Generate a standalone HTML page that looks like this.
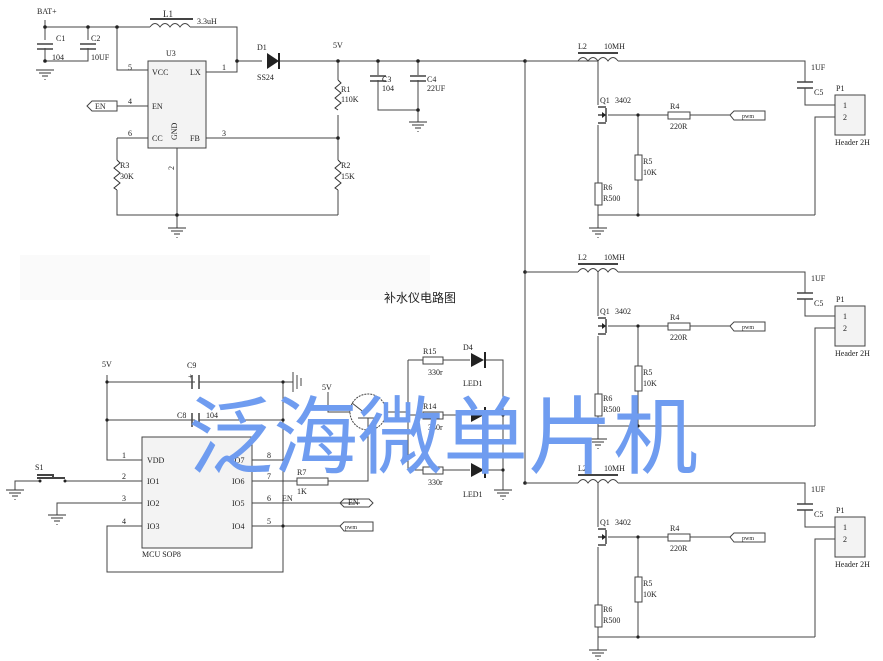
<!DOCTYPE html><html><head><meta charset="utf-8"><style>body{margin:0;background:#fff}svg{display:block}text{font-family:"Liberation Serif",serif;font-size:8px;fill:#222}</style></head><body>
<svg width="883" height="661" viewBox="0 0 883 661" xmlns="http://www.w3.org/2000/svg">
<defs>
<g id="gnd" stroke="#333" stroke-width="1"><line x1="-9" y1="0" x2="9" y2="0"/><line x1="-6" y1="3" x2="6" y2="3"/><line x1="-3" y1="6" x2="3" y2="6"/><line x1="0" y1="9" x2="0" y2="10"/></g>
<path id="zig" d="M0,0 l3,3 l-6,5 l6,5 l-6,5 l6,5 l-6,5 l3,2" fill="none" stroke="#333"/>
</defs>
<rect width="883" height="661" fill="#fff"/>
<rect x="20" y="255" width="410" height="45" fill="#fafafa"/>
<g stroke="#444" stroke-width="1" fill="none">
<path d="M45,20V40M45,48V61H88V48M88,40V27M45,27H150M190,27H237V72H206M117,27V70H148M237,61H262M280,61H598M117,106H148M117,138H148M117,138V160M117,190V215H338M338,61V80M338,115V160M338,190V215M206,138H338M177,148V228M378,61V75M378,80V110H418V80M418,75V61M418,110V122"/>
<path d="M150,27q5,-7 10,0q5,-7 10,0q5,-7 10,0q5,-7 10,0"/>
<line x1="150" y1="19" x2="193" y2="19" stroke-width="2"/>
<path d="M37,44H53M37,49H53M80,44H96M80,49H96M370,76H386M370,81H386M410,76H426M410,81H426" stroke-width="1.5"/>
<rect x="148" y="61" width="58" height="87" fill="#f3f3f3"/>
<path d="M87,106l5,-5h25v10h-25z"/>
<path d="M525,61V483"/>
</g>
<polygon points="267,53 267,69 279,61" fill="#222"/><line x1="279" y1="53" x2="279" y2="69" stroke="#222" stroke-width="2"/>
<use href="#zig" x="338" y="80"/><use href="#zig" x="338" y="160"/><use href="#zig" x="117" y="160"/>
<use href="#gnd" x="45" y="70"/><use href="#gnd" x="177" y="228"/><use href="#gnd" x="418" y="122"/>
<g fill="#222"><circle cx="45" cy="27" r="1.8"/><circle cx="88" cy="27" r="1.8"/><circle cx="117" cy="27" r="1.8"/><circle cx="45" cy="61" r="1.8"/><circle cx="237" cy="61" r="1.8"/><circle cx="338" cy="61" r="1.8"/><circle cx="378" cy="61" r="1.8"/><circle cx="418" cy="61" r="1.8"/><circle cx="418" cy="110" r="1.8"/><circle cx="338" cy="138" r="1.8"/><circle cx="177" cy="215" r="1.8"/><circle cx="525" cy="61" r="1.8"/><circle cx="525" cy="272" r="1.8"/><circle cx="525" cy="483" r="1.8"/></g>
<text x="37" y="14">BAT+</text><text x="56" y="41">C1</text><text x="52" y="60">104</text><text x="91" y="41">C2</text><text x="91" y="60">10UF</text>
<text x="163" y="17" style="font-size:9px">L1</text><text x="197" y="24">3.3uH</text><text x="166" y="56">U3</text>
<text x="152" y="75">VCC</text><text x="190" y="75">LX</text><text x="152" y="109">EN</text><text x="152" y="141">CC</text><text x="190" y="141">FB</text>
<text x="128" y="70">5</text><text x="222" y="70">1</text><text x="128" y="104">4</text><text x="128" y="136">6</text><text x="222" y="136">3</text><text x="95" y="109">EN</text>
<text x="257" y="50">D1</text><text x="257" y="80">SS24</text><text x="333" y="48">5V</text>
<text x="341" y="92">R1</text><text x="341" y="102">110K</text><text x="341" y="168">R2</text><text x="341" y="179">15K</text>
<text x="120" y="168">R3</text><text x="120" y="179">30K</text><text x="382" y="82">C3</text><text x="382" y="91">104</text><text x="427" y="82">C4</text><text x="427" y="91">22UF</text>
<text x="177" y="140" transform="rotate(-90 177 140)">GND</text><text x="174" y="170" transform="rotate(-90 174 170)">2</text>
<g id="br">
<g stroke="#444" fill="none">
<path d="M525,61H578M618,61H805V82M805,88V105H835M815,215V117H835M598,61V105M598,125V183M598,205V228M598,215H815M608,115H668M690,115H730M638,115V155M638,180V215"/>
<path d="M578,61q5,-7 10,0q5,-7 10,0q5,-7 10,0q5,-7 10,0"/>
<line x1="578" y1="53" x2="618" y2="53" stroke-width="2"/>
<path d="M797,82H813M797,88H813" stroke-width="1.5"/>
<rect x="835" y="95" width="30" height="40" fill="#f3f3f3"/>
<rect x="668" y="112" width="22" height="7"/><rect x="635" y="155" width="7" height="25"/><rect x="595" y="183" width="7" height="22"/>
<path d="M730,115l4,-4h31v9h-31z"/>
<path d="M606,108V122M598,107H606M598,123H606M598,115H606" stroke-width="1.5"/>
</g>
<polygon points="602,112 602,118 606,115" fill="#222"/>
<circle cx="638" cy="115" r="1.6" fill="#222"/><circle cx="638" cy="215" r="1.6" fill="#222"/>
<use href="#gnd" x="598" y="228"/>
<text x="578" y="49">L2</text><text x="604" y="49">10MH</text><text x="811" y="70">1UF</text><text x="814" y="95">C5</text><text x="836" y="91">P1</text>
<text x="843" y="108">1</text><text x="843" y="120">2</text><text x="835" y="145">Header 2H</text>
<text x="600" y="103">Q1</text><text x="615" y="103">3402</text><text x="670" y="109">R4</text><text x="670" y="129">220R</text>
<text x="742" y="118" style="font-size:6px">pwm</text><text x="643" y="164">R5</text><text x="643" y="175">10K</text><text x="603" y="190">R6</text><text x="603" y="201">R500</text>
</g>
<use href="#br" y="211"/><use href="#br" y="422"/>
<text x="384" y="302" style="font-family:'Noto Sans CJK SC',sans-serif;font-size:12px">补水仪电路图</text>
<g stroke="#444" fill="none">
<path d="M107,375V460H142M107,382H195M199,382H283M107,420H195M199,420H283M283,382V526M252,460H283M252,481H297M328,481H368V430M252,503H360M252,526H340M142,481H65M40,481H15V490M142,503H57V515M142,526H107V572H283V526M328,392V412H350M386,412H408M408,360V470M408,360H423M443,360H470M485,360H503V490M408,415H423M443,415H470M485,415H503M408,470H423M443,470H470M485,470H503"/>
<path d="M192,375V389M199,375V389M192,413V427M199,413V427" stroke-width="1.5"/>
<path d="M283,382H293M293,372V392M297,375V389M301,378V386"/>
<rect x="142" y="437" width="110" height="111" fill="#f3f3f3"/>
<path d="M37,475H53V478M37,478H65" stroke-width="2"/>
<circle cx="368" cy="412" r="18" stroke-dasharray="2,1"/>
<path d="M358,418H378M368,418V430M352,403L366,414"/>
<rect x="423" y="357" width="20" height="7"/><rect x="423" y="412" width="20" height="7"/><rect x="423" y="467" width="20" height="7"/>
<rect x="297" y="478" width="31" height="7"/>
<path d="M340,503l4,-4h25l4,4l-4,4h-25z"/><path d="M340,526l4,-4h29v9h-29z"/>
</g>
<g fill="#222"><polygon points="471,353 471,367 484,360"/><polygon points="471,408 471,422 484,415"/><polygon points="471,463 471,477 484,470"/>
<rect x="484" y="352" width="2" height="16"/><rect x="484" y="407" width="2" height="16"/><rect x="484" y="462" width="2" height="16"/>
<circle cx="107" cy="382" r="1.6"/><circle cx="107" cy="420" r="1.6"/><circle cx="283" cy="382" r="1.6"/><circle cx="283" cy="420" r="1.6"/><circle cx="283" cy="526" r="1.6"/><circle cx="503" cy="415" r="1.6"/><circle cx="503" cy="470" r="1.6"/><circle cx="40" cy="481" r="1.5"/><circle cx="65" cy="481" r="1.5"/></g>
<use href="#gnd" x="15" y="490"/><use href="#gnd" x="57" y="515"/><use href="#gnd" x="503" y="490"/>
<text x="102" y="367">5V</text><text x="187" y="368">C9</text><text x="188" y="379">+</text><text x="177" y="418">C8</text><text x="206" y="418">104</text>
<text x="147" y="463">VDD</text><text x="147" y="484">IO1</text><text x="147" y="506">IO2</text><text x="147" y="529">IO3</text>
<text x="232" y="463">IO7</text><text x="232" y="484">IO6</text><text x="232" y="506">IO5</text><text x="232" y="529">IO4</text>
<text x="122" y="458">1</text><text x="122" y="479">2</text><text x="122" y="501">3</text><text x="122" y="524">4</text>
<text x="267" y="458">8</text><text x="267" y="479">7</text><text x="267" y="501">6</text><text x="267" y="524">5</text><text x="282" y="501">EN</text>
<text x="142" y="557">MCU SOP8</text><text x="35" y="470">S1</text><text x="297" y="475">R7</text><text x="297" y="494">1K</text>
<text x="322" y="390">5V</text><text x="423" y="354">R15</text><text x="428" y="375">330r</text><text x="463" y="350">D4</text><text x="463" y="386">LED1</text>
<text x="423" y="409">R14</text><text x="428" y="430">330r</text><text x="428" y="485">330r</text><text x="463" y="497">LED1</text>
<text x="348" y="505">EN</text><text x="345" y="529" style="font-size:6px">pwm</text>
<text x="188" y="467" style="font-family:'Noto Sans CJK SC',sans-serif;font-size:85px;fill:#6f9cf0">泛海微单片机</text>
</svg>
</body></html>
